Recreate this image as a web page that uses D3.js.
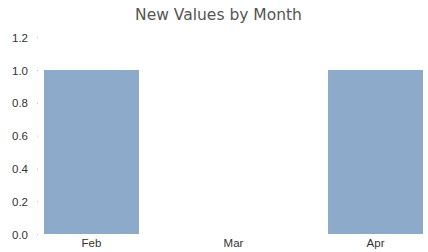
<!DOCTYPE html>
<html>
<head>
<meta charset="utf-8">
<script src="https://cdn.jsdelivr.net/npm/d3@7"></script>
<style>
  body { margin: 0; background: #fff; }
  .tick text { font-family: "Liberation Sans", Arial, sans-serif; font-size: 11.5px; fill: #333; }
</style>
</head>
<body>
<svg id="chart" width="428" height="252"></svg>
<script>
var months = ["Feb", "Mar", "Apr"];
var values = [1, 0, 1];
var yTicks = [0, 0.2, 0.4, 0.6, 0.8, 1.0, 1.2];

var svg = d3.select("#chart"),
    width = +svg.attr("width"),
    height = +svg.attr("height");

var x = d3.scaleBand()
    .domain(months)
    .range([38, 429])
    .paddingInner(0.331)
    .paddingOuter(0.042);

var y = d3.scaleLinear()
    .domain([0, 1.2])
    .range([234, 37.2]);

svg.append("text")
    .attr("x", 218.5)
    .attr("y", 20)
    .attr("text-anchor", "middle")
    .style("font-family", "DejaVu Sans, Verdana, sans-serif")
    .style("font-size", "15.5px")
    .style("fill", "#555")
    .text("New Values by Month");

svg.selectAll(".bar")
    .data(months)
  .enter().append("rect")
    .attr("class", "bar")
    .attr("x", function(d) { return x(d); })
    .attr("width", x.bandwidth())
    .attr("y", function(d, i) { return y(values[i]); })
    .attr("height", function(d, i) { return y(0) - y(values[i]); })
    .attr("fill", "#8eaacb");

// y axis: tiny dot ticks, no domain line
var yAxis = svg.append("g")
    .attr("transform", "translate(38,0)")
    .call(d3.axisLeft(y).tickValues(yTicks).tickFormat(d3.format(".1f")).tickSize(1).tickPadding(9));
yAxis.select(".domain").remove();
yAxis.selectAll(".tick line").attr("stroke", "#bbb");
yAxis.selectAll(".tick text").attr("dy", "0.35em");

var xAxis = svg.append("g")
    .attr("transform", "translate(0,234)")
    .call(d3.axisBottom(x).tickSize(0).tickPadding(5));
xAxis.select(".domain").remove();
</script>
</body>
</html>
